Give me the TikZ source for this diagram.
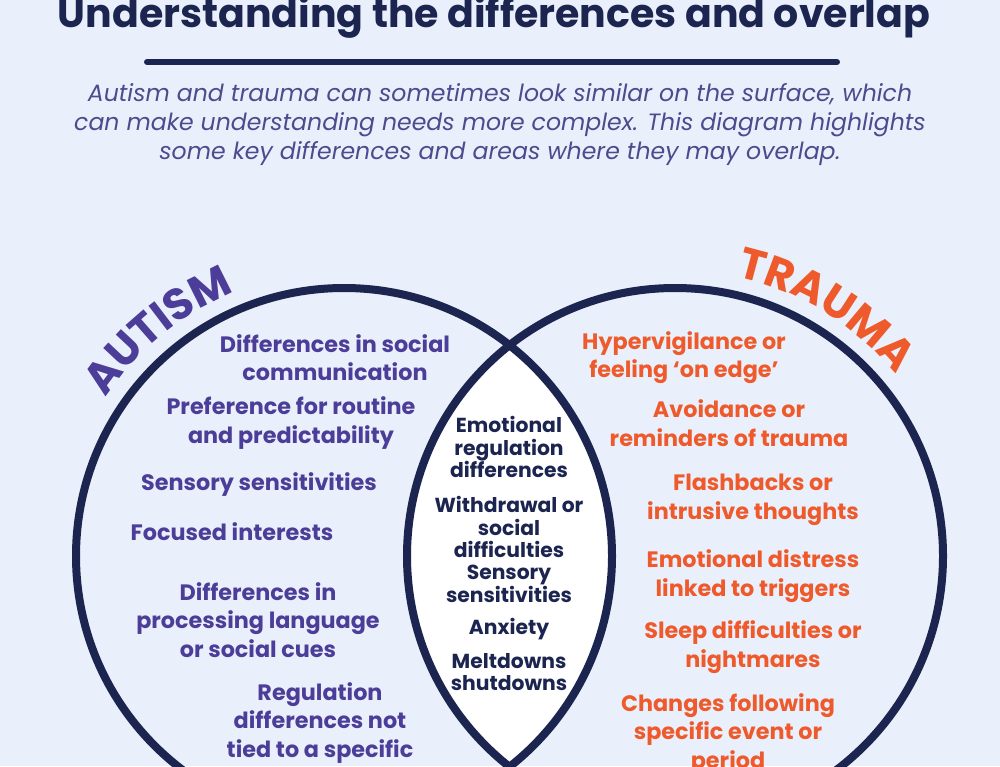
\documentclass[tikz,border=0pt]{standalone}
\usepackage{fontspec}
\setmainfont{Poppins}
\usetikzlibrary{calc,decorations.text}
\definecolor{pageBg}{HTML}{EAF0FB}
\definecolor{ringNavy}{HTML}{1B2550}
\definecolor{autismText}{HTML}{4B3D98}
\definecolor{traumaText}{HTML}{EE5A2B}
\definecolor{introText}{HTML}{4E4A8E}

\begin{document}
\begin{tikzpicture}[
  x=1pt, y=-1pt,
  ring/.style      ={draw=ringNavy, line width=8pt},
  autismItem/.style={text=autismText, font=\fontsize{22.3}{28.5}\selectfont\bfseries, align=center, inner sep=0pt},
  traumaItem/.style={text=traumaText, font=\fontsize{22.3}{28.5}\selectfont\bfseries, align=center, inner sep=0pt},
  bothItem/.style  ={text=ringNavy, font=\fontsize{20.3}{22.5}\selectfont\bfseries, align=center, inner sep=0pt},
  arcLabel/.style  ={decorate, decoration={text along path, text align=center}},
]

% ==================== Page ====================
\useasboundingbox (0,0) rectangle (1000,766);
\fill[pageBg] (0,0) rectangle (1000,766);

% ==================== Heading ====================
\node[anchor=base, text=ringNavy, font=\fontsize{39.5}{44}\selectfont\bfseries, inner sep=0pt] (title) at (494,27) {Understanding the differences and overlap};
\coordinate (ruleL) at (147,62);
\coordinate (ruleR) at (837,62);
\draw[ringNavy, line width=6pt, line cap=round] (ruleL) -- (ruleR);
\node[text=introText, font=\fontsize{23.6}{29}\selectfont\itshape, align=center, inner sep=0pt] (intro) at (500,125)
  {Autism and trauma can sometimes look similar on the surface, which\\
   can make understanding needs more complex. This diagram highlights\\
   some key differences and areas where they may overlap.};

% ==================== Venn rings ====================
\coordinate (lc) at (344,556);
\coordinate (rc) at (675,556);
\begin{scope}
  \clip (lc) circle (268);
  \fill[white] (rc) circle (268);
\end{scope}
\draw[ring] (lc) circle (268);
\draw[ring] (rc) circle (268);

% Curved headings
\path[arcLabel, decoration={text={|\color{autismText}\fontsize{44}{44}\selectfont\bfseries|AUTISM}}]
  ($(lc)+(-159.5:286)$) arc[start angle=-159.5, end angle=-99.5, radius=286];
\path[arcLabel, decoration={text={|\color{traumaText}\fontsize{44}{44}\selectfont\bfseries|TRAUMA}}]
  ($(rc)+(-88.5:286)$) arc[start angle=-88.5, end angle=-28.5, radius=286];

% ==================== Autism only ====================
\node[autismItem] (a1) at (335,357.5) {Differences in social\\communication};
\node[autismItem] (a2) at (291,423) {Preference for routine\\and predictability};
\node[autismItem] (a3) at (259,485) {Sensory sensitivities};
\node[autismItem] (a4) at (232,532) {Focused interests};
\node[autismItem] (a5) at (258,620) {Differences in\\processing language\\or social cues};
\node[autismItem] (a6) at (320,723) {Regulation\\differences not\\tied to a specific};

% ==================== Overlap ====================
\node[bothItem] (b1) at (509,447) {Emotional\\regulation\\differences};
\node[bothItem] (b2) at (509,527) {Withdrawal or\\social\\difficulties};
\node[bothItem] (b3) at (509,584) {Sensory\\sensitivities};
\node[bothItem] (b4) at (509,629) {Anxiety};
\node[bothItem] (b5) at (509,672) {Meltdowns\\shutdowns};

% ==================== Trauma only ====================
\node[traumaItem] (t1) at (684,357.5) {Hypervigilance or\\feeling ‘on edge’};
\node[traumaItem] (t2) at (729,423) {Avoidance or\\reminders of trauma};
\node[traumaItem] (t3) at (753,500) {Flashbacks or\\intrusive thoughts};
\node[traumaItem] (t4) at (753,576) {Emotional distress\\linked to triggers};
\node[traumaItem] (t5) at (753,647) {Sleep difficulties or\\nightmares};
\node[traumaItem] (t6) at (728,734) {Changes following\\specific event or\\period};

\end{tikzpicture}
\end{document}
